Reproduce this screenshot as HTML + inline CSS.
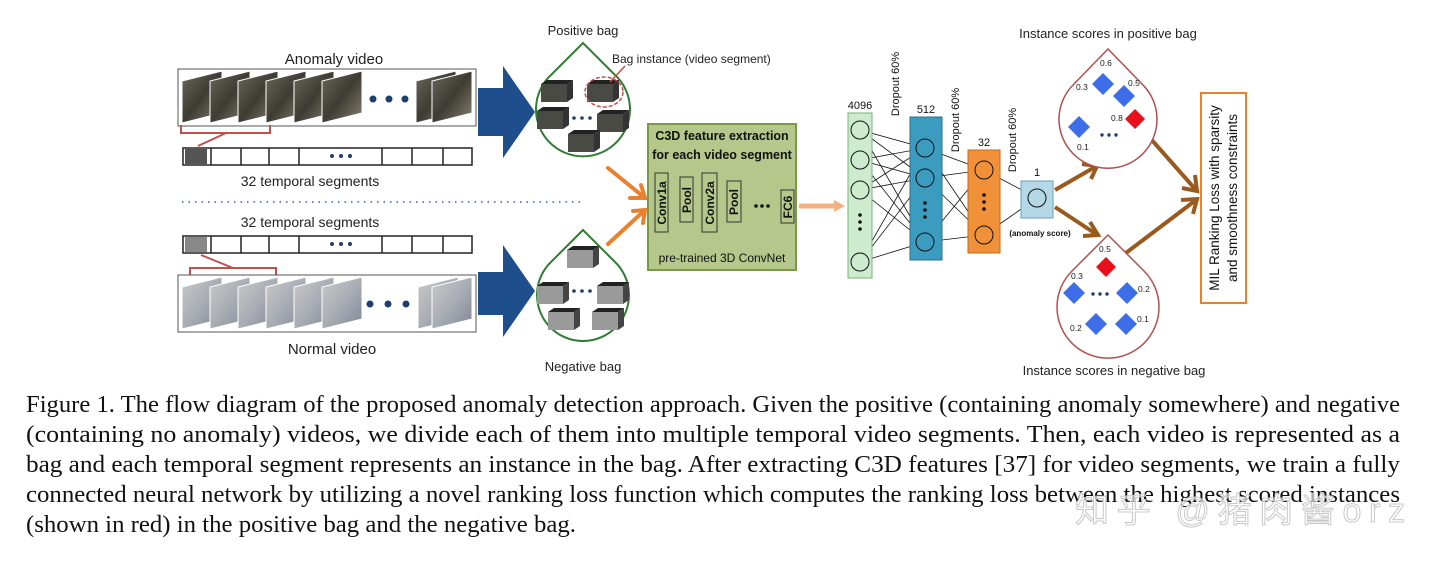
<!DOCTYPE html>
<html><head><meta charset="utf-8"><style>
html,body{margin:0;padding:0;background:#fff;}
svg{display:block;}
.s{font-family:"Liberation Sans",sans-serif;}
.c{font-family:"Liberation Serif",serif;font-size:24px;fill:#111;}
</style></head><body>
<svg width="1440" height="566" viewBox="0 0 1440 566" xmlns="http://www.w3.org/2000/svg">
<defs>
<linearGradient id="ga" x1="0" y1="0" x2="1" y2="1"><stop offset="0" stop-color="#6b6a5a"/><stop offset="0.5" stop-color="#3d3b33"/><stop offset="1" stop-color="#8a8270"/></linearGradient>
<linearGradient id="gn" x1="0" y1="0" x2="1" y2="1"><stop offset="0" stop-color="#c9c9c9"/><stop offset="0.5" stop-color="#a9adb4"/><stop offset="1" stop-color="#7f8796"/></linearGradient>
<polygon id="fa" points="0,52 0,10 40,0 40,42" fill="url(#ga)" stroke="#fff" stroke-width="1"/>
<polygon id="fn" points="0,52 0,10 40,0 40,42" fill="url(#gn)" stroke="#fff" stroke-width="1"/>
<g id="cubeA"><rect x="0" y="4" width="26" height="18" fill="#4a4a44"/><polygon points="0,4 6,0 32,0 26,4" fill="#222"/><polygon points="26,4 32,0 32,18 26,22" fill="#333"/></g>
<g id="cubeN"><rect x="0" y="4" width="26" height="18" fill="#9a9a9a"/><polygon points="0,4 6,0 32,0 26,4" fill="#222"/><polygon points="26,4 32,0 32,18 26,22" fill="#444"/></g>
<polygon id="dia" points="0,-11 11,0 0,11 -11,0" fill="#3d6ee8"/>
</defs>

<text x="334" y="64" class="s" font-size="15" text-anchor="middle" fill="#222">Anomaly video</text>
<rect x="178" y="69" width="298" height="57" fill="#fff" stroke="#555" stroke-width="1"/>
<use href="#fa" x="182" y="71"/><use href="#fa" x="210" y="71"/><use href="#fa" x="238" y="71"/><use href="#fa" x="266" y="71"/><use href="#fa" x="294" y="71"/><use href="#fa" x="322" y="71"/>
<circle cx="373" cy="99" r="3.5" fill="#1f3e70"/><circle cx="389" cy="99" r="3.5" fill="#1f3e70"/><circle cx="405" cy="99" r="3.5" fill="#1f3e70"/>
<use href="#fa" x="416" y="71"/><use href="#fa" x="432" y="71"/>
<path d="M181,125 V133 H270 V125 M226,133 L198,146" fill="none" stroke="#c0504d" stroke-width="2"/>
<rect x="183" y="148" width="289" height="17" fill="#fff" stroke="#222" stroke-width="1.5"/>
<rect x="185" y="149" width="22" height="15" fill="#555"/>
<g stroke="#222" stroke-width="1.5"><line x1="211" y1="148" x2="211" y2="165"/><line x1="241" y1="148" x2="241" y2="165"/><line x1="269" y1="148" x2="269" y2="165"/><line x1="299" y1="148" x2="299" y2="165"/><line x1="382" y1="148" x2="382" y2="165"/><line x1="412" y1="148" x2="412" y2="165"/><line x1="443" y1="148" x2="443" y2="165"/></g>
<circle cx="332" cy="156" r="2" fill="#1f3e70"/><circle cx="341" cy="156" r="2" fill="#1f3e70"/><circle cx="350" cy="156" r="2" fill="#1f3e70"/>
<text x="310" y="186" class="s" font-size="14" text-anchor="middle" fill="#222">32  temporal segments</text>
<line x1="182" y1="202" x2="583" y2="202" stroke="#6a7fd0" stroke-width="2" stroke-dasharray="1.5 5"/>
<text x="310" y="227" class="s" font-size="14" text-anchor="middle" fill="#222">32  temporal segments</text>
<rect x="183" y="236" width="289" height="17" fill="#fff" stroke="#222" stroke-width="1.5"/>
<rect x="185" y="237" width="22" height="15" fill="#888"/>
<g stroke="#222" stroke-width="1.5"><line x1="211" y1="236" x2="211" y2="253"/><line x1="241" y1="236" x2="241" y2="253"/><line x1="269" y1="236" x2="269" y2="253"/><line x1="299" y1="236" x2="299" y2="253"/><line x1="382" y1="236" x2="382" y2="253"/><line x1="412" y1="236" x2="412" y2="253"/><line x1="443" y1="236" x2="443" y2="253"/></g>
<circle cx="332" cy="244" r="2" fill="#1f3e70"/><circle cx="341" cy="244" r="2" fill="#1f3e70"/><circle cx="350" cy="244" r="2" fill="#1f3e70"/>
<path d="M190,276 V268 H276 V276 M233,268 L201,255" fill="none" stroke="#c0504d" stroke-width="2"/>
<rect x="178" y="275" width="298" height="57" fill="#fff" stroke="#555" stroke-width="1"/>
<use href="#fn" x="182" y="277"/><use href="#fn" x="210" y="277"/><use href="#fn" x="238" y="277"/><use href="#fn" x="266" y="277"/><use href="#fn" x="294" y="277"/><use href="#fn" x="322" y="277"/>
<circle cx="370" cy="304" r="3.5" fill="#1f3e70"/><circle cx="388" cy="304" r="3.5" fill="#1f3e70"/><circle cx="406" cy="304" r="3.5" fill="#1f3e70"/>
<use href="#fn" x="418" y="277"/><use href="#fn" x="432" y="277"/>
<text x="332" y="354" class="s" font-size="15" text-anchor="middle" fill="#222">Normal video</text>

<polygon points="478,88 503,88 503,66 535,112 503,158 503,136 478,136" fill="#1f4e8c"/>
<polygon points="478,272 503,272 503,245 535,291 503,337 503,315 478,315" fill="#1f4e8c"/>

<text x="583" y="35" class="s" font-size="13" text-anchor="middle" fill="#222">Positive bag</text>
<path d="M583,43 L552,74 A47,47 0 1 0 614,74 Z" fill="#fff" stroke="#2e7d32" stroke-width="2"/>
<use href="#cubeA" x="541" y="80"/><use href="#cubeA" x="587" y="80"/>
<ellipse cx="604" cy="92" rx="19" ry="15" fill="none" stroke="#c0504d" stroke-width="1.5" stroke-dasharray="4 2"/>
<use href="#cubeA" x="537" y="107"/><use href="#cubeA" x="597" y="110"/><use href="#cubeA" x="568" y="130"/>
<circle cx="574" cy="118" r="1.8" fill="#1f3e70"/><circle cx="582" cy="118" r="1.8" fill="#1f3e70"/><circle cx="590" cy="118" r="1.8" fill="#1f3e70"/>
<text x="612" y="63" class="s" font-size="12" fill="#222">Bag instance (video segment)</text>
<line x1="625" y1="66" x2="610" y2="82" stroke="#c0504d" stroke-width="1.5"/>
<path d="M583,230 L552,261 A46,46 0 1 0 614,261 Z" fill="#fff" stroke="#2e7d32" stroke-width="2"/>
<use href="#cubeN" x="567" y="246"/><use href="#cubeN" x="537" y="282"/><use href="#cubeN" x="597" y="282"/><use href="#cubeN" x="548" y="308"/><use href="#cubeN" x="592" y="308"/>
<circle cx="574" cy="291" r="1.8" fill="#1f3e70"/><circle cx="582" cy="291" r="1.8" fill="#1f3e70"/><circle cx="590" cy="291" r="1.8" fill="#1f3e70"/>
<text x="583" y="371" class="s" font-size="13" text-anchor="middle" fill="#222">Negative bag</text>

<g stroke="#e8822e" stroke-width="4" fill="none" stroke-linecap="round">
<line x1="608" y1="168" x2="645" y2="198"/><path d="M630,198 L645,198 L641,185"/>
<line x1="608" y1="244" x2="645" y2="210"/><path d="M633,211 L645,210 L643,223"/>
</g>

<rect x="648" y="124" width="148" height="146" fill="#b5c78a" stroke="#7a9a4a" stroke-width="2"/>
<text x="722" y="140" class="s" font-size="12.5" font-weight="bold" text-anchor="middle" fill="#111">C3D feature extraction</text>
<text x="722" y="159" class="s" font-size="12.5" font-weight="bold" text-anchor="middle" fill="#111">for each video segment</text>
<g fill="none" stroke="#333" stroke-width="1">
<rect x="655" y="173" width="13" height="59"/><rect x="680" y="177" width="13" height="45"/><rect x="702" y="173" width="15" height="59"/><rect x="727" y="181" width="14" height="41"/><rect x="781" y="190" width="13" height="33"/>
</g>
<g class="s" font-size="12" font-weight="bold" fill="#111">
<text transform="translate(666,203) rotate(-90)" text-anchor="middle">Conv1a</text>
<text transform="translate(691,200) rotate(-90)" text-anchor="middle">Pool</text>
<text transform="translate(714,203) rotate(-90)" text-anchor="middle">Conv2a</text>
<text transform="translate(738,202) rotate(-90)" text-anchor="middle">Pool</text>
<text transform="translate(792,207) rotate(-90)" text-anchor="middle">FC6</text>
</g>
<circle cx="756" cy="206" r="1.8" fill="#111"/><circle cx="762" cy="206" r="1.8" fill="#111"/><circle cx="768" cy="206" r="1.8" fill="#111"/>
<text x="722" y="262" class="s" font-size="12" text-anchor="middle" fill="#111">pre-trained 3D ConvNet</text>
<line x1="799" y1="206" x2="836" y2="206" stroke="#f4b183" stroke-width="5"/>
<polygon points="834,200 845,206 834,212" fill="#f4b183"/>

<g stroke="#111" stroke-width="0.8">
<line x1="860" y1="130" x2="925" y2="148"/><line x1="860" y1="130" x2="925" y2="178"/><line x1="860" y1="130" x2="925" y2="242"/>
<line x1="860" y1="160" x2="925" y2="148"/><line x1="860" y1="160" x2="925" y2="178"/><line x1="860" y1="160" x2="925" y2="242"/>
<line x1="860" y1="190" x2="925" y2="148"/><line x1="860" y1="190" x2="925" y2="178"/><line x1="860" y1="190" x2="925" y2="242"/>
<line x1="860" y1="262" x2="925" y2="148"/><line x1="860" y1="262" x2="925" y2="178"/><line x1="860" y1="262" x2="925" y2="242"/>
<line x1="925" y1="148" x2="984" y2="170"/><line x1="925" y1="148" x2="984" y2="235"/>
<line x1="925" y1="178" x2="984" y2="170"/><line x1="925" y1="178" x2="984" y2="235"/>
<line x1="925" y1="242" x2="984" y2="170"/><line x1="925" y1="242" x2="984" y2="235"/>
<line x1="984" y1="170" x2="1037" y2="198"/><line x1="984" y1="235" x2="1037" y2="198"/>
</g>
<rect x="848" y="113" width="24" height="165" fill="#cdeccd" stroke="#7ab07a" stroke-width="1"/>
<rect x="910" y="117" width="32" height="143" fill="#3c9cc0" stroke="#2a7090" stroke-width="1"/>
<rect x="968" y="150" width="32" height="103" fill="#f0913a" stroke="#c06a20" stroke-width="1"/>
<rect x="1021" y="181" width="32" height="37" fill="#b4d8e6" stroke="#6aa0b8" stroke-width="1"/>
<g fill="none" stroke="#111" stroke-width="1">
<circle cx="860" cy="130" r="9"/><circle cx="860" cy="160" r="9"/><circle cx="860" cy="190" r="9"/><circle cx="860" cy="262" r="9"/>
<circle cx="925" cy="148" r="9"/><circle cx="925" cy="178" r="9"/><circle cx="925" cy="242" r="9"/>
<circle cx="984" cy="170" r="9"/><circle cx="984" cy="235" r="9"/>
<circle cx="1037" cy="198" r="9"/>
</g>
<g fill="#111"><circle cx="860" cy="215" r="1.8"/><circle cx="860" cy="222" r="1.8"/><circle cx="860" cy="229" r="1.8"/>
<circle cx="925" cy="203" r="1.8"/><circle cx="925" cy="210" r="1.8"/><circle cx="925" cy="217" r="1.8"/>
<circle cx="984" cy="195" r="1.8"/><circle cx="984" cy="202" r="1.8"/><circle cx="984" cy="209" r="1.8"/></g>
<g class="s" font-size="11" fill="#111" text-anchor="middle">
<text x="860" y="109">4096</text><text x="926" y="113">512</text><text x="984" y="146">32</text><text x="1037" y="176">1</text>
<text transform="translate(899,84) rotate(-90)">Dropout 60%</text>
<text transform="translate(959,120) rotate(-90)">Dropout 60%</text>
<text transform="translate(1016,140) rotate(-90)">Dropout 60%</text>
</g>
<text x="1040" y="236" class="s" font-size="8" font-weight="bold" text-anchor="middle" fill="#111">(anomaly score)</text>

<g stroke="#9a5a1e" stroke-width="4" fill="none">
<line x1="1055" y1="190" x2="1095" y2="167"/><path d="M1082,164 L1097,166 L1091,179"/>
<line x1="1055" y1="207" x2="1096" y2="234"/><path d="M1090,222 L1098,235 L1083,236"/>
<line x1="1135" y1="121" x2="1196" y2="190"/><path d="M1195,175 L1197,191 L1182,188"/>
<line x1="1110" y1="265" x2="1196" y2="200"/><path d="M1181,200 L1197,199 L1193,214"/>
</g>

<text x="1108" y="38" class="s" font-size="13" text-anchor="middle" fill="#222">Instance scores in positive bag</text>
<path d="M1108,49 L1074,84 A49,49 0 1 0 1142,84 Z" fill="#fff" stroke="#b05050" stroke-width="1.5"/>
<use href="#dia" x="1103" y="84"/><use href="#dia" x="1124" y="96"/><use href="#dia" x="1079" y="127"/>
<polygon points="1135,109 1145,119 1135,129 1125,119" fill="#e8101a"/>
<g class="s" font-size="8.5" fill="#222"><text x="1100" y="66">0.6</text><text x="1076" y="90">0.3</text><text x="1128" y="86">0.5</text><text x="1111" y="121">0.8</text><text x="1077" y="150">0.1</text></g>
<g fill="#1f3e70"><circle cx="1102" cy="135" r="1.7"/><circle cx="1109" cy="135" r="1.7"/><circle cx="1116" cy="135" r="1.7"/></g>
<path d="M1108,235 L1072,271 A51,51 0 1 0 1144,271 Z" fill="#fff" stroke="#b05050" stroke-width="1.5"/>
<polygon points="1106,257 1116,267 1106,277 1096,267" fill="#e8101a"/>
<use href="#dia" x="1074" y="293"/><use href="#dia" x="1127" y="293"/><use href="#dia" x="1096" y="324"/><use href="#dia" x="1126" y="324"/>
<g class="s" font-size="8.5" fill="#222"><text x="1099" y="252">0.5</text><text x="1071" y="279">0.3</text><text x="1138" y="292">0.2</text><text x="1070" y="331">0.2</text><text x="1137" y="322">0.1</text></g>
<g fill="#1f3e70"><circle cx="1093" cy="294" r="1.7"/><circle cx="1100" cy="294" r="1.7"/><circle cx="1107" cy="294" r="1.7"/></g>
<text x="1114" y="375" class="s" font-size="13" text-anchor="middle" fill="#222">Instance scores in negative bag</text>

<rect x="1201" y="93" width="45" height="210" fill="#fff" stroke="#e8822e" stroke-width="2"/>
<g class="s" font-size="13.5" fill="#111" text-anchor="middle">
<text transform="translate(1219,198) rotate(-90)">MIL Ranking Loss with sparsity</text>
<text transform="translate(1237,198) rotate(-90)">and smoothness constraints</text>
</g>

<text class="c" x="26" y="412" textLength="1374" lengthAdjust="spacingAndGlyphs">Figure 1. The flow diagram of the proposed anomaly detection approach. Given the positive (containing anomaly somewhere) and negative</text>
<text class="c" x="26" y="442" textLength="1374" lengthAdjust="spacingAndGlyphs">(containing no anomaly) videos, we divide each of them into multiple temporal video segments.  Then, each video is represented as a</text>
<text class="c" x="26" y="472" textLength="1374" lengthAdjust="spacingAndGlyphs">bag and each temporal segment represents an instance in the bag. After extracting C3D features [37] for video segments, we train a fully</text>
<text class="c" x="26" y="502" textLength="1374" lengthAdjust="spacingAndGlyphs">connected neural network by utilizing a novel ranking loss function which computes the ranking loss between the highest scored instances</text>
<text class="c" x="26" y="532" textLength="550" lengthAdjust="spacingAndGlyphs">(shown in red) in the positive bag and the negative bag.</text>
<text x="1075" y="522" font-family="'Liberation Sans','Noto Sans CJK SC',sans-serif" font-size="34" fill="#fff" fill-opacity="0.6" stroke="#c8c8c8" stroke-width="1" textLength="330">知乎 @猪肉酱orz</text>
</svg>
</body></html>
